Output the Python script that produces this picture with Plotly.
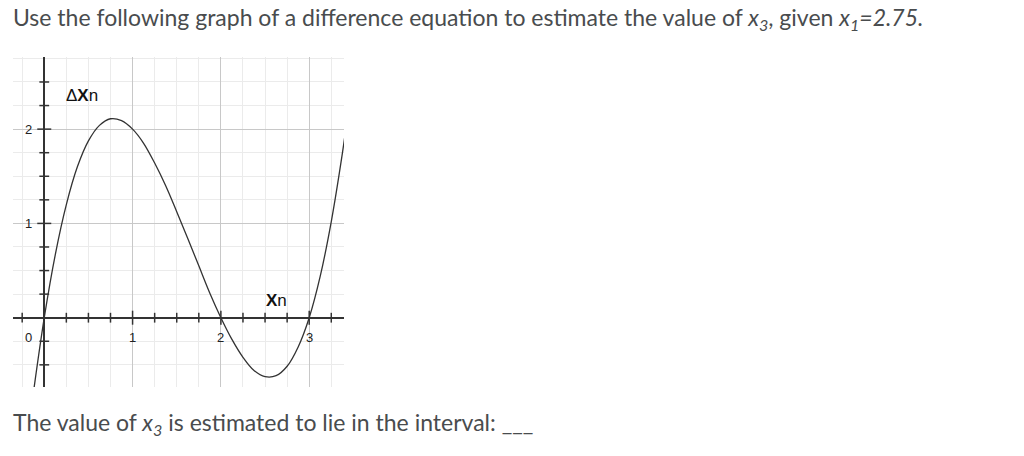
import plotly.graph_objects as go

# curve: x_n against delta x_n
xn = [-0.15, 0.0, 0.125, 0.25, 0.375, 0.5, 0.625, 0.75, 0.875, 1.0, 1.125, 1.25,
      1.375, 1.5, 1.625, 1.75, 1.875, 2.0, 2.125, 2.25, 2.375, 2.5, 2.625, 2.75,
      2.875, 3.0, 3.125, 3.25, 3.375, 3.42]
dxn = [-0.98, 0.0, 0.67, 1.2, 1.6, 1.875, 2.04, 2.11, 2.09, 2.0, 1.85, 1.64,
       1.4, 1.125, 0.84, 0.55, 0.26, 0.0, -0.23, -0.42, -0.56, -0.625, -0.615, -0.515,
       -0.31, 0.0, 0.44, 1.02, 1.74, 2.04]

# axis tick marks and labels
x_minor_ticks = [-0.25, 0.25, 0.5, 0.75, 1.25, 1.5, 1.75, 2.25, 2.5, 2.75, 3.25]
x_major_ticks = [1, 2, 3]
y_minor_ticks = [-0.5, -0.25, 0.25, 0.5, 0.75, 1.25, 1.5, 1.75, 2.25, 2.5]
y_major_ticks = [1, 2]
x_tick_labels = ["0", "1", "2", "3"]
x_label_pos = [-0.18, 1, 2, 3]
y_tick_labels = ["1", "2"]
y_label_pos = [1, 2]

question = ("Use the following graph of a difference equation to estimate the value of "
            "<i>x</i><sub><i>3</i></sub>, given <i>x</i><sub><i>1</i></sub><i>=2.75.</i>")
prompt = "The value of <i>x</i><sub><i>3</i></sub> is estimated to lie in the interval: ___"

ink = "#333333"


def tick_trace(xs, ys, symbol, size):
    return go.Scatter(x=xs, y=ys, mode="markers", hoverinfo="skip",
                      marker=dict(symbol=symbol, size=size, color=ink, line=dict(color=ink, width=1.5)))


fig = go.Figure()

fig.add_trace(go.Scatter(x=xn, y=dxn, mode="lines", line=dict(color=ink, width=1.3, shape="spline"),
                         hoverinfo="skip"))

# crossing tick marks on the axes
fig.add_trace(tick_trace(x_minor_ticks, [0] * len(x_minor_ticks), "line-ns-open", 7))
fig.add_trace(tick_trace(x_major_ticks, [0] * len(x_major_ticks), "line-ns-open", 10))
fig.add_trace(tick_trace([0] * len(y_minor_ticks), y_minor_ticks, "line-ew-open", 7))
fig.add_trace(tick_trace([0] * len(y_major_ticks), y_major_ticks, "line-ew-open", 10))

for lab, pos in zip(x_tick_labels, x_label_pos):
    fig.add_annotation(x=pos, y=-0.21, text=lab, showarrow=False,
                       font=dict(family="Liberation Sans", size=13, color="#222222"))
for lab, pos in zip(y_tick_labels, y_label_pos):
    fig.add_annotation(x=-0.18, y=pos, text=lab, showarrow=False,
                       font=dict(family="Liberation Sans", size=13, color="#222222"))

fig.add_annotation(x=0.43, y=2.36, text="\u0394<b>X</b>n", showarrow=False,
                   font=dict(family="Liberation Sans", size=17, color="#111111"))
fig.add_annotation(x=2.63, y=0.18, text="<b>X</b>n", showarrow=False,
                   font=dict(family="Liberation Sans", size=17, color="#111111"))

fig.add_annotation(xref="paper", yref="paper", x=-0.006, y=1.118, xanchor="left", yanchor="middle",
                   text=question, showarrow=False, font=dict(family="Lato", size=23, color="#494c4e"))
fig.add_annotation(xref="paper", yref="paper", x=-0.006, y=-0.112, xanchor="left", yanchor="middle",
                   text=prompt, showarrow=False, font=dict(family="Lato", size=23, color="#494c4e"))

fig.update_xaxes(range=[-0.354, 3.394], tick0=0, dtick=1, showticklabels=False, ticks="",
                 showgrid=True, gridcolor="#c8c8c8", gridwidth=1,
                 minor=dict(tick0=0, dtick=0.25, showgrid=True, gridcolor="#ebebeb", gridwidth=1),
                 zeroline=True, zerolinecolor=ink, zerolinewidth=2, showline=False)
fig.update_yaxes(range=[-0.735, 2.765], tick0=0, dtick=1, showticklabels=False, ticks="",
                 showgrid=True, gridcolor="#c8c8c8", gridwidth=1,
                 minor=dict(tick0=0, dtick=0.25, showgrid=True, gridcolor="#ebebeb", gridwidth=1),
                 zeroline=True, zerolinecolor=ink, zerolinewidth=2, showline=False)

fig.update_layout(width=1024, height=456, margin=dict(l=13, r=680, t=57, b=69),
                  plot_bgcolor="white", paper_bgcolor="white", showlegend=False)

# drop the browser's default page margin so the figure sits at the window corner
fig.write_html("out.html", config={"displayModeBar": False},
               post_script="document.body.style.margin='0px';")
